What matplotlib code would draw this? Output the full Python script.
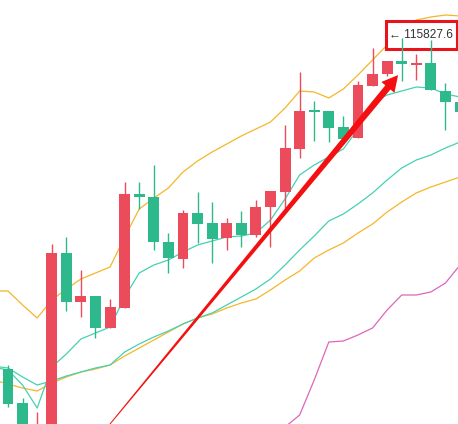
import numpy as np
import matplotlib.pyplot as plt
from matplotlib.patches import Polygon, Rectangle

# candles (open, high, low, close)
opens = [106560, 105608, 104572, 104572, 109808, 108436, 108604, 107708, 108268, 111460,
         111376, 110116, 109640, 110928, 110648, 110228, 110648, 110312, 111096, 111516,
         112720, 113812, 113784, 113336, 113028, 114484, 114820, 115184, 115072, 115128,
         114344, 114036]
highs = [106672, 105748, 105356, 110060, 110256, 109332, 108604, 108520, 111796, 111796,
         112272, 110368, 111012, 111516, 111236, 110788, 110984, 111292, 111544, 113392,
         114876, 114064, 113784, 113644, 114624, 115548, 115184, 115827.6, 115380, 115772,
         114568, 114092]
lows = [105496, 104572, 104404, 104348, 108184, 108016, 107428, 107708, 108268, 111040,
        109892, 109248, 109388, 110088, 109528, 109892, 109976, 110256, 109976, 111068,
        112468, 112944, 112916, 113000, 113028, 114484, 114764, 114624, 114652, 114372,
        113252, 113672]
closes = [105580, 104852, 104796, 109808, 108436, 108604, 107708, 108296, 111460, 111376,
          110116, 109668, 110928, 110620, 110200, 110648, 110312, 111096, 111544, 112748,
          113784, 113756, 113308, 113000, 114512, 114820, 115184, 115100, 115128, 114372,
          114036, 113756]

# indicator lines, first value belongs to the bar before the visible range
boll_upper = [108744, 108744, 108352, 107988, 108492, 108800, 109080, 109248, 109416, 110256,
              111040, 111348, 111628, 112076, 112384, 112636, 112860, 113084, 113280, 113476,
              113868, 114344, 114316, 114148, 114400, 114792, 115212, 115632, 116080, 116332,
              116416, 116472, 116444]
ma_fast = [106610, 106532, 106112, 105468, 106616, 106980, 107400, 107568, 107736, 108576,
           109248, 109472, 109612, 109836, 110032, 110144, 110256, 110284, 110368, 110732,
           111320, 111992, 112272, 112496, 112720, 113280, 114036, 114232, 114344, 114456,
           114428, 114260, 114176]
ma_mid = [106640, 106588, 106336, 106112, 106224, 106364, 106476, 106588, 106672, 107036,
          107260, 107456, 107624, 107820, 107988, 108128, 108352, 108576, 108800, 109080,
          109472, 109892, 110284, 110704, 110900, 111180, 111488, 111852, 112188, 112412,
          112552, 112748, 112916]
ma_slow = [106252, 106140, 106028, 105944, 106168, 106336, 106476, 106560, 106672, 106924,
           107148, 107372, 107596, 107820, 107988, 108100, 108268, 108408, 108520, 108772,
           109052, 109304, 109668, 109892, 110088, 110368, 110620, 110956, 111236, 111488,
           111656, 111796, 111936]
ma_long = [np.nan] * 20 + [104936, 105272, 106252, 107316, 107344, 107512, 107708, 108212,
                           108632, 108632, 108716, 108968, 109472]

high_label = "\u2190 115827.6"
arrow_tail = (6.45, 104750)
arrow_tip = (26.75, 114790)

up_col = '#ec4b5b'
down_col = '#2db98c'
yellow = '#f3b72a'
teal = '#45d1b2'
pink = '#dd66b9'

fig = plt.figure(figsize=(4.58, 4.24), dpi=100)
ax = fig.add_axes([0, 0, 1, 1])
ax.set_xlim(-0.549, 30.86)
ax.set_ylim(105020, 116892)
ax.axis('off')

x = np.arange(len(opens))
xl = np.arange(-1, len(opens))
ax.plot(xl, boll_upper, color=yellow, lw=0.9, zorder=1)
ax.plot(xl, ma_slow, color=yellow, lw=0.9, zorder=1)
ax.plot(xl, ma_mid, color=teal, lw=0.9, zorder=1)
ax.plot(xl, ma_fast, color=teal, lw=0.9, zorder=1)
ax.plot(xl, ma_long, color=pink, lw=0.9, zorder=1)

o = np.array(opens)
c = np.array(closes)
cols = np.where(c >= o, up_col, down_col)
ax.vlines(x, lows, highs, colors=cols, lw=1.0, zorder=3)
body = np.maximum(np.abs(c - o), 55)
ax.bar(x, body, bottom=np.minimum(o, c), width=0.75, color=cols, lw=0, zorder=3)

# tapered red arrow, built in pixel space
p0 = ax.transData.transform(arrow_tail)
p1 = ax.transData.transform(arrow_tip)
d = (p1 - p0) / np.hypot(*(p1 - p0))
n = np.array([-d[1], d[0]])
head_len, head_w = 16, 8.5
base = p1 - d * head_len
pts = [p0 + n * 0.4, base + n * 3.3, base + n * head_w, p1,
       base - n * head_w, base - n * 3.3, p0 - n * 0.4]
pts = ax.transData.inverted().transform(pts)
ax.add_patch(Polygon(pts, closed=True, color='#f41010', lw=0, zorder=4))

# max-high label box
imax = int(np.argmax(highs))
hp = ax.transData.transform((imax, highs[imax]))
corner = ax.transData.inverted().transform([hp + (-16, -11), hp + (55, 17)])
ax.add_patch(Rectangle(corner[0], *(corner[1] - corner[0]), fc='white', ec='#e8141c',
                       lw=2.2, zorder=2))
ax.annotate(high_label, xy=(imax, highs[imax]), xytext=(-13, 3),
            textcoords='offset pixels', ha='left', va='center',
            fontsize=8.6, family='Liberation Sans', color='#333333', zorder=5)

fig.savefig('out.png', dpi=100)
